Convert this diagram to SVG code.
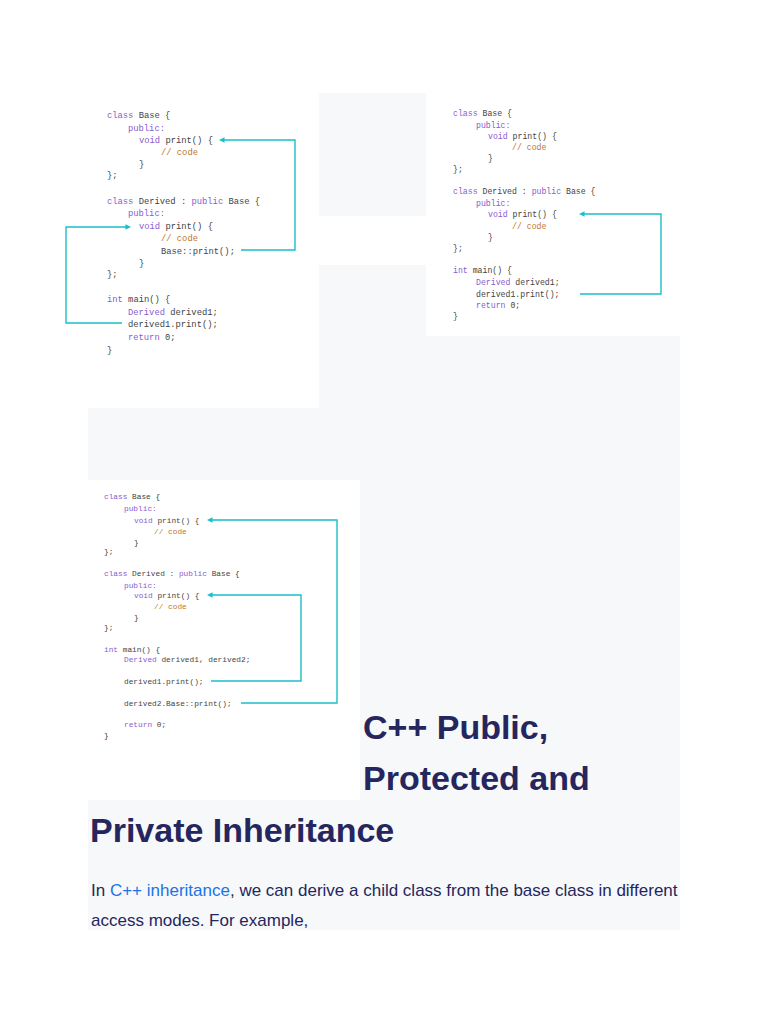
<svg xmlns="http://www.w3.org/2000/svg" width="768" height="1024" viewBox="0 0 768 1024">
<defs>
<marker id="ah" viewBox="0 0 10 10" refX="1" refY="5" markerWidth="4" markerHeight="4" orient="auto-start-reverse"><path d="M0,0 L10,5 L0,10 z" fill="#1bbfc9"/></marker>
<style>
.c{font-family:"Liberation Mono",monospace;fill:#444}
.k{fill:#8a5cd0}.m{fill:#c0762a}
.w{fill:none;stroke:#1bbfc9;stroke-width:1.4}
.h{font-family:"Liberation Sans",Arial,sans-serif;font-weight:bold;font-size:34px;fill:#25265e}
.p{font-family:"Liberation Sans",Arial,sans-serif;font-size:17px;fill:#25265e}
</style>
</defs>
<rect width="768" height="1024" fill="#fff"/>
<g fill="#f7f8fa">
<rect x="319" y="93" width="107" height="123"/>
<rect x="319" y="265" width="107" height="143"/>
<rect x="426" y="336" width="254" height="144"/>
<rect x="88" y="408" width="592" height="72"/>
<rect x="360" y="480" width="320" height="320"/>
<rect x="88" y="800" width="592" height="130"/>
</g>
<g id="code1" class="c" font-size="8.8">
<text x="107" y="118"><tspan class="k">class</tspan> Base {</text>
<text x="128" y="131" class="k">public:</text>
<text x="139" y="143"><tspan class="k">void</tspan> print() {</text>
<text x="161" y="155" class="m">// code</text>
<text x="139" y="167">}</text>
<text x="107" y="178">};</text>
<text x="107" y="204"><tspan class="k">class</tspan> Derived : <tspan class="k">public</tspan> Base {</text>
<text x="128" y="216" class="k">public:</text>
<text x="139" y="229"><tspan class="k">void</tspan> print() {</text>
<text x="161" y="241" class="m">// code</text>
<text x="161" y="254">Base::print();</text>
<text x="139" y="266">}</text>
<text x="107" y="277">};</text>
<text x="107" y="302"><tspan class="k">int</tspan> main() {</text>
<text x="128" y="315"><tspan class="k">Derived</tspan> derived1;</text>
<text x="128" y="327">derived1.print();</text>
<text x="128" y="340"><tspan class="k">return</tspan> 0;</text>
<text x="107" y="353">}</text>
</g>
<g id="code2" class="c" font-size="8.2">
<text x="453" y="116"><tspan class="k">class</tspan> Base {</text>
<text x="476" y="128" class="k">public:</text>
<text x="488" y="139"><tspan class="k">void</tspan> print() {</text>
<text x="512" y="150" class="m">// code</text>
<text x="488" y="161">}</text>
<text x="453" y="172">};</text>
<text x="453" y="194"><tspan class="k">class</tspan> Derived : <tspan class="k">public</tspan> Base {</text>
<text x="476" y="206" class="k">public:</text>
<text x="488" y="217"><tspan class="k">void</tspan> print() {</text>
<text x="512" y="229" class="m">// code</text>
<text x="488" y="240">}</text>
<text x="453" y="251">};</text>
<text x="453" y="273"><tspan class="k">int</tspan> main() {</text>
<text x="476" y="285"><tspan class="k">Derived</tspan> derived1;</text>
<text x="476" y="297">derived1.print();</text>
<text x="476" y="308"><tspan class="k">return</tspan> 0;</text>
<text x="453" y="319">}</text>
</g>
<g id="code3" class="c" font-size="7.8">
<text x="104" y="499"><tspan class="k">class</tspan> Base {</text>
<text x="124" y="511" class="k">public:</text>
<text x="134" y="523"><tspan class="k">void</tspan> print() {</text>
<text x="154" y="534" class="m">// code</text>
<text x="134" y="545">}</text>
<text x="104" y="554">};</text>
<text x="104" y="576"><tspan class="k">class</tspan> Derived : <tspan class="k">public</tspan> Base {</text>
<text x="124" y="588" class="k">public:</text>
<text x="134" y="598"><tspan class="k">void</tspan> print() {</text>
<text x="154" y="609" class="m">// code</text>
<text x="134" y="620">}</text>
<text x="104" y="630">};</text>
<text x="104" y="652"><tspan class="k">int</tspan> main() {</text>
<text x="124" y="662"><tspan class="k">Derived</tspan> derived1, derived2;</text>
<text x="124" y="684">derived1.print();</text>
<text x="124" y="706">derived2.Base::print();</text>
<text x="124" y="727"><tspan class="k">return</tspan> 0;</text>
<text x="104" y="738">}</text>
</g>
<g id="connectors">
<path class="w" d="M241,250 H295 V140 H224" marker-end="url(#ah)"/>
<path class="w" d="M122,323 H66 V227 H126" marker-end="url(#ah)"/>
<path class="w" d="M580,294 H661 V214 H584" marker-end="url(#ah)"/>
<path class="w" d="M211,681 H301 V595 H212" marker-end="url(#ah)"/>
<path class="w" d="M241,703 H337 V520 H212" marker-end="url(#ah)"/>
</g>
<g id="title">
<text class="h" x="363" y="739">C++ Public,</text>
<text class="h" x="363" y="790">Protected and</text>
<text class="h" x="90" y="842">Private Inheritance</text>
</g>
<g id="para">
<text class="p" x="91" y="896">In <tspan fill="#1a73e8">C++ inheritance</tspan>, we can derive a child class from the base class in different</text>
<text class="p" x="91" y="926">access modes. For example,</text>
</g>
</svg>
